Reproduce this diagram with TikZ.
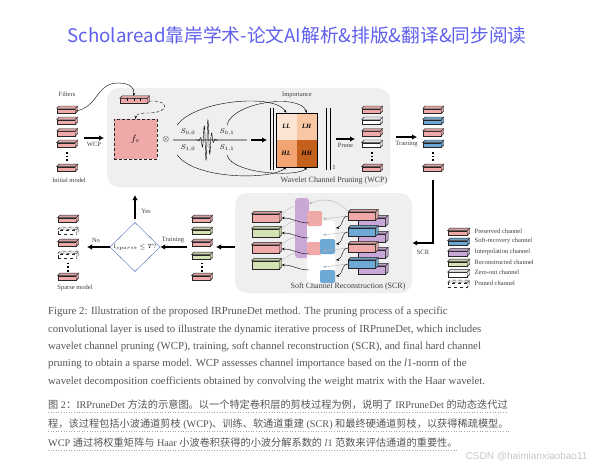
\documentclass[tikz,border=0pt]{standalone}
\usepackage{fontspec}
\setmainfont{Liberation Serif}
\newfontfamily\cjk{Noto Sans CJK SC}
\newfontfamily\sansf{Liberation Sans}
\usetikzlibrary{arrows.meta, shapes.geometric, positioning}

\definecolor{hong}{HTML}{EFA9A9}
\definecolor{lam}{HTML}{6EA8D5}
\definecolor{tim}{HTML}{C9A7D7}
\definecolor{luc}{HTML}{D4E2B4}
\definecolor{nen}{HTML}{EFEFEF}
\definecolor{chu}{HTML}{555555}
\definecolor{tieude}{HTML}{5F5FEE}
\definecolor{qLL}{HTML}{FBE4D3}
\definecolor{qLH}{HTML}{F8C8A4}
\definecolor{qHL}{HTML}{F2A472}
\definecolor{qHH}{HTML}{C4601C}
\definecolor{vien}{HTML}{4A6FB5}

% kênh 3D: [kiểu]{tên}{vị trí}{màu}
\newcommand{\kenh}[4][]{%
  \node[kenh, #1, fill=#4] (#2) at (#3) {};
  \draw[kenh, #1, fill=#4!80!gray] (#2.north west) -- ++(2.5,-2.5) -- ([shift={(2.5,-2.5)}]#2.north east)
    -- ([shift={(2.5,-2.5)}]#2.south east) -- (#2.south east) -- (#2.north east) -- cycle;
  \draw[kenh, #1] (#2.north east) -- ++(2.5,-2.5);
}
% ba chấm dọc
\newcommand{\chamdoc}[1]{\draw[line width=1.8pt, dash pattern=on 1.8pt off 1.8pt] (#1) -- ++(0,10.5);}
\newcommand{\zh}[1]{{\cjk #1}}

\begin{document}
\begin{tikzpicture}[>=latex, x=1pt, y=-1pt,
  kenh/.style={draw=black!85, line width=0.45pt, minimum width=18pt, minimum height=4.5pt, inner sep=0pt},
  kenhlon/.style={minimum width=27pt, minimum height=8pt},
  nhan/.style={font=\fontsize{6.5}{7}\selectfont, text=black!75, inner sep=0.5pt},
  muiten/.style={-{Latex[length=5pt, width=5.5pt]}, line width=1.8pt},
  cung/.style={->, thin, >={Stealth[length=3pt, width=2.6pt]}},
  xam/.style={cung, gray!60},
  hop/.style={fill=nen, rounded corners=12pt, inner sep=0pt},
  o/.style={minimum width=20.5pt, minimum height=27pt, inner sep=0pt, font=\fontsize{6.5}{7}\selectfont\bfseries\itshape},
  dong/.style={anchor=west, inner sep=0pt, text=chu, text height=7.5pt, text depth=2.5pt, font=\fontsize{10.8}{12}\selectfont},
  dongzh/.style={dong, font=\fontsize{10.2}{12}\selectfont},
]
\useasboundingbox[fill=white] (0,0) rectangle (594,468);

% Tiêu đề
\node[font=\cjk\fontsize{18.7}{20}\selectfont, text=tieude] (tieude) at (297,35)
  {Scholaread靠岸学术-论文AI解析\&排版\&翻译\&同步阅读};

% Khối WCP và SCR
\node[hop, minimum width=283pt, minimum height=99pt] (wcp) at (248.5,137.5) {};
\node[nhan, font=\fontsize{8}{9}\selectfont] (wcpnhan) at (334,180.5) {Wavelet Channel Pruning (WCP)};
\node[hop, minimum width=177pt, minimum height=100pt] (scr) at (323.5,243) {};
\node[nhan, font=\fontsize{8}{9}\selectfont] (scrnhan) at (348,287) {Soft Channel Reconstruction (SCR)};

% Mô hình ban đầu
\node[nhan] (filters) at (67,94) {Filters};
\foreach \y [count=\i] in {111,122,133.5,145,169} {\kenh{f\i}{66,\y}{hong}}
\chamdoc{67,152}
\node[nhan] (initnhan) at (69,180) {Initial model};
\coordinate (w1) at (84,138);
\coordinate (w2) at (104,138);
\draw[muiten] (w1) -- (w2) node[nhan, midway, below=3pt] {WCP};

% Thanh lọc và f_v
\kenh[minimum width=27pt, minimum height=5pt]{wbar}{133.5,101}{hong}
\foreach \x in {127,134,140.5} \draw[densely dashed, line width=0.3pt] (\x,98.5) -- (\x,103.5);
\node[draw=black!85, densely dashed, fill=hong, minimum width=43pt, minimum height=40pt, inner sep=0pt] (fv) at (135.5,139)
  {\fontsize{9}{9}\selectfont $f_v$};
\draw[cung] (f1.east) .. controls (98,108) and (96,83) .. (118,83) .. controls (130,83) and (135,88) .. ([yshift=2.5pt]wbar.north);
\draw[cung, densely dashed] ([xshift=2.5pt]wbar.east) .. controls (170,100) and (170,113) .. (148,113) .. controls (140,113) and (136,114) .. (fv.north);

% Tích chập với wavelet Haar
\node[inner sep=0pt] (tich) at (166,140) {\fontsize{8}{8}\selectfont $\otimes$};
\coordinate (g1) at (247,140);
\draw[gray!75, line width=1pt] ([xshift=3pt]tich.east) -- (g1);
\draw[thin] plot[domain=-11:11, samples=160, smooth] ({207+\x}, {140-21*exp(-\x*\x/20)*sin(\x*95)});
\node[font=\fontsize{7.5}{8}\selectfont] (s00) at (188,132) {$S_{0,0}$};
\node[font=\fontsize{7.5}{8}\selectfont] (s10) at (188,148) {$S_{1,0}$};
\node[font=\fontsize{7.5}{8}\selectfont] (s01) at (227,132) {$S_{0,1}$};
\node[font=\fontsize{7.5}{8}\selectfont] (s11) at (227,148) {$S_{1,1}$};

% Ma trận tầm quan trọng
\node[nhan] (impnhan) at (297,95) {Importance};
\node[o, fill=qLL] (LL) at (286.25,126.5) {LL};
\node[o, fill=qLH] (LH) at (306.75,126.5) {LH};
\node[o, fill=qHL] (HL) at (286.25,153.5) {HL};
\node[o, fill=qHH] (HH) at (306.75,153.5) {HH};
\draw[line width=0.6pt] (276,113) rectangle (317,167);
\foreach \x in {270,273.5,326.5,330} \draw[line width=0.7pt] (\x,108) -- (\x,170);
\node[nhan] (chuan) at (334,167) {1};
\draw[cung] (s00.north west) .. controls (195,100) and (275,93) .. (LL.north);
\draw[cung] (s01.north) .. controls (232,102) and (300,93) .. (LH.north);
\draw[cung] (s10.south west) .. controls (195,180) and (272,180) .. (HL.south);
\draw[cung] (s11.south) .. controls (232,175) and (300,177) .. (HH.south);
\coordinate (g2) at (251,140);
\coordinate (g3) at (267,140);
\draw[muiten] (g2) -- (g3);

% Tỉa kênh
\coordinate (p1a) at (336,139);
\coordinate (p1b) at (355,139);
\draw[muiten] (p1a) -- (p1b) node[nhan, midway, below=3pt] {Prune};
\kenh{c1}{371,111}{hong}
\kenh{c2}{371,122}{white}
\kenh{c3}{371,133.5}{hong}
\kenh{c4}{371,145}{white}
\kenh{c5}{371,169}{hong}
\chamdoc{372,152}

% Huấn luyện
\coordinate (t1a) at (396,137);
\coordinate (t1b) at (417,137);
\draw[muiten] (t1a) -- (t1b) node[nhan, midway, below=3pt] {Training};
\kenh{t1}{432,111}{hong}
\kenh{t2}{432,122}{lam}
\kenh{t3}{432,133.5}{hong}
\kenh{t4}{432,145}{lam}
\kenh{t5}{432,169}{hong}
\chamdoc{433,152}
\coordinate (s0) at (433,180);
\draw[muiten] (s0) |- (scr.east);
\node[nhan] (scrmui) at (423,252) {SCR};

% Bên trong SCR
\foreach \y/\c [count=\i] in {216/hong,232/lam,248/hong,264/lam}
  {\kenh[kenhlon]{q\i}{372,\y+6}{tim}
   \kenh[kenhlon]{p\i}{362,\y}{\c}}
\foreach \y/\c [count=\i] in {218/hong,233/luc,249/hong,265/luc}
  {\kenh[kenhlon]{l\i}{265.5,\y}{\c}}
\node[fill=tim, rounded corners=3pt, minimum width=14pt, minimum height=60pt, inner sep=0pt] (ip) at (302,228) {};
\node[fill=white, rounded corners=3pt, minimum width=28pt, minimum height=62pt, inner sep=0pt] (zp) at (321,252) {};
\node[fill=hong, rounded corners=2pt, minimum width=15pt, minimum height=15pt, inner sep=0pt] (m1) at (314.5,218.5) {};
\node[fill=hong, rounded corners=2pt, minimum width=15pt, minimum height=13pt, inner sep=0pt] (m2) at (314.5,248.5) {};
\node[fill=lam, rounded corners=2pt, minimum width=15pt, minimum height=15pt, inner sep=0pt] (m3) at (327.5,246.5) {};
\node[fill=lam, rounded corners=2pt, minimum width=15pt, minimum height=13pt, inner sep=0pt] (m4) at (327.5,276.5) {};
\draw[xam] (p1.north west) .. controls (338,200) and (325,197) .. ([yshift=-6pt]ip.north east);
\foreach \i/\y in {1/216,2/232,3/248,4/264} {
  \draw[xam] (p\i.west) -- (323,\y+3);
  \draw[cung] (p\i.west) .. controls (341,\y) and (343,\y+11) .. (336,\y+12);
}
\foreach \i/\y in {1/218,2/233,3/249,4/265} {
  \draw[gray!55, thin] ([xshift=2.5pt]l\i.north east) .. controls (289,\y-10) and (292,\y-12) .. (298,\y-12);
  \draw[cung] (309,\y+5) .. controls (298,\y+5) and (293,\y) .. ([xshift=2.5pt]l\i.east);
}

% Sau SCR
\coordinate (b1) at (235,247);
\coordinate (b2) at (216,247);
\draw[muiten] (b1) -- (b2);
\kenh{r1}{201,220}{hong}
\kenh{r2}{201,232}{luc}
\kenh{r3}{201,244}{hong}
\kenh{r4}{201,257}{luc}
\kenh{r5}{201,278}{hong}
\chamdoc{202,262.5}
\node[diamond, draw=vien, thin, fill=white, minimum width=50pt, minimum height=34pt, inner sep=0pt] (kt) at (135,247)
  {\fontsize{6.5}{7}\selectfont $l_{sparse}\leq T?$};
\coordinate (b3) at (187,247);
\draw[muiten] (b3) -- (kt.east);
\node[nhan] (trnhan) at (173,240) {Training};
\coordinate (b4) at (87,247);
\draw[muiten] (kt.west) -- (b4);
\node[nhan] (nonhan) at (96,240) {No};
\coordinate (b5) at (135,195);
\draw[muiten, shorten <=3pt] (kt.north) -- (b5);
\node[nhan] (yesnhan) at (146,211) {Yes};

% Mô hình thưa
\kenh{e1}{67,220}{hong}
\kenh[dashed]{e2}{67,232}{white}
\kenh{e3}{67,244}{hong}
\kenh[dashed]{e4}{67,256}{white}
\kenh{e5}{67,278}{hong}
\chamdoc{68,262.5}
\node[nhan] (sparsenhan) at (75,288) {Sparse model};

% Chú thích
\kenh[minimum width=19pt]{k1}{457.5,233}{hong}
\kenh[minimum width=19pt]{k2}{457.5,243}{lam}
\kenh[minimum width=19pt]{k3}{457.5,253.5}{tim}
\kenh[minimum width=19pt]{k4}{457.5,264}{luc}
\kenh[minimum width=19pt]{k5}{457.5,274.5}{white}
\kenh[minimum width=19pt, dashed]{k6}{457.5,285}{white}
\node[nhan, anchor=west] (kn1) at (474,231) {Preserved channel};
\node[nhan, anchor=west] (kn2) at (474,241) {Soft-recovery channel};
\node[nhan, anchor=west] (kn3) at (474,251.5) {Interpolation channel};
\node[nhan, anchor=west] (kn4) at (474,262) {Reconstructed channel};
\node[nhan, anchor=west] (kn5) at (474,272.5) {Zero-out channel};
\node[nhan, anchor=west] (kn6) at (474,283) {Pruned channel};

% Chú thích hình
\node[dong] (en1) at (48,312) {Figure 2: Illustration of the proposed IRPruneDet method. The pruning process of a specific};
\node[dong] (en2) at (48,329.5) {convolutional layer is used to illustrate the dynamic iterative process of IRPruneDet, which includes};
\node[dong] (en3) at (48,347) {wavelet channel pruning (WCP), training, soft channel reconstruction (SCR), and final hard channel};
\node[dong] (en4) at (48,364) {pruning to obtain a sparse model. WCP assesses channel importance based on the \textit{l}1-norm of the};
\node[dong] (en5) at (48,381.5) {wavelet decomposition coefficients obtained by convolving the weight matrix with the Haar wavelet.};

\node[dongzh] (zh1) at (48,406) {\zh{图} 2\zh{：}IRPruneDet \zh{方法的示意图。以一个特定卷积层的剪枝过程为例，说明了} IRPruneDet \zh{的动态迭代过}};
\node[dongzh] (zh2) at (48,425) {\zh{程，该过程包括小波通道剪枝} (WCP)\zh{、训练、软通道重建} (SCR) \zh{和最终硬通道剪枝，以获得稀疏模型。}};
\node[dongzh] (zh3) at (48,444) {WCP \zh{通过将权重矩阵与} Haar \zh{小波卷积获得的小波分解系数的} \textit{l}1 \zh{范数来评估通道的重要性。}};
\foreach \n in {zh1,zh2,zh3}
  \draw[dotted, gray!70, line width=0.6pt] ([yshift=-1.5pt]\n.south west) -- ([yshift=-1.5pt]\n.south east);
\node[anchor=east, font=\sansf\fontsize{10}{10}\selectfont, text=black!22] (wm) at (591,457) {CSDN @haimianxiaobao11};
\end{tikzpicture}
\end{document}
